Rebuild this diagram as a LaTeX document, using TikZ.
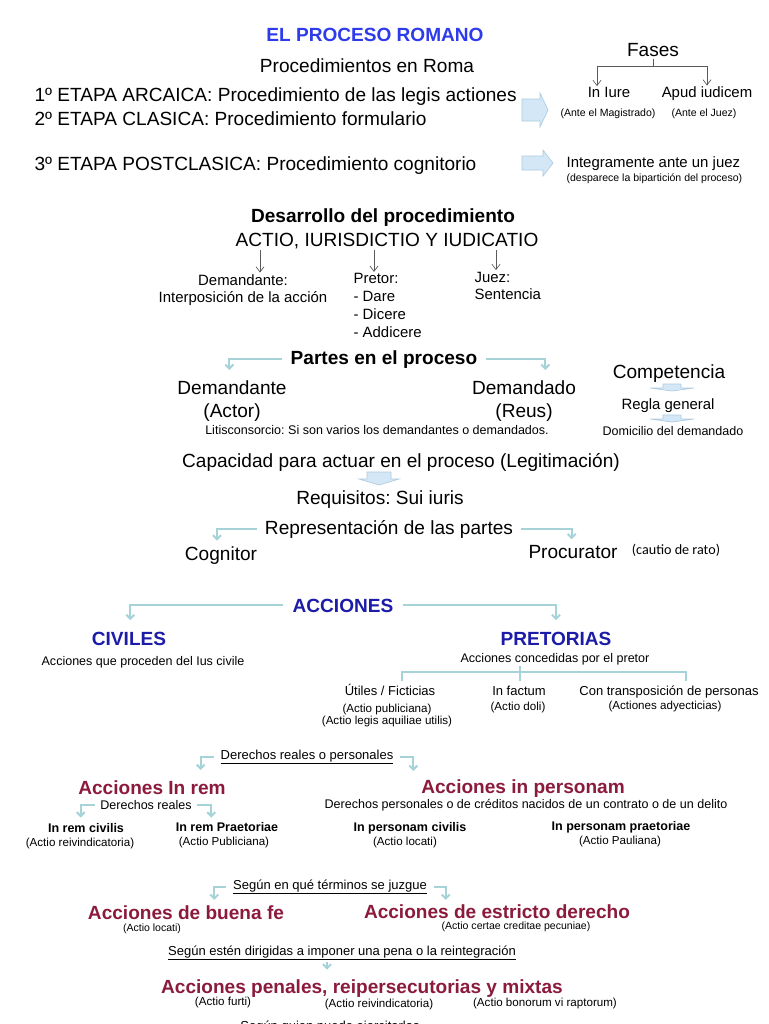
\documentclass[tikz,border=0pt]{standalone}
\usepackage{fontspec}
\setmainfont{Liberation Sans}
\newfontfamily\carlito{Carlito}
\usetikzlibrary{arrows.meta}
\frenchspacing

\definecolor{titblue}{HTML}{2E3BEA}
\definecolor{accblue}{HTML}{1C1CA8}
\definecolor{granate}{HTML}{8B1A3C}
\definecolor{lineteal}{HTML}{A6D3D8}
\definecolor{blkfill}{HTML}{D3E7F6}
\definecolor{blkdraw}{HTML}{AFCBE0}
\definecolor{gris}{HTML}{5A5A5A}

\tikzset{
  txt/.style={anchor=base, inner sep=1pt, align=center},
  big/.style={txt, font=\fontsize{14.3}{17.25}\selectfont},
  bigb/.style={txt, font=\fontsize{14.3}{17.25}\selectfont\bfseries},
  med/.style={txt, font=\fontsize{11.2}{12.75}\selectfont},
  sm13/.style={txt, font=\fontsize{9.75}{12}\selectfont},
  small/.style={txt, font=\fontsize{9.4}{11}\selectfont},
  smb/.style={txt, font=\fontsize{9.4}{11}\selectfont\bfseries},
  tiny/.style={txt, font=\fontsize{8.7}{9}\selectfont},
  micro/.style={txt, font=\fontsize{7.9}{9}\selectfont},
  tarr/.style={draw=lineteal, line width=1.5pt, -{Straight Barb[length=3pt,width=6pt]}},
  tline/.style={draw=lineteal, line width=1.3pt},
  garr/.style={draw=gris, line width=0.5pt, -{Straight Barb[length=4pt,width=6pt]}},
  blk/.style={fill=blkfill, draw=blkdraw, line width=0.5pt},
}

\begin{document}
\begin{tikzpicture}[x=0.75pt, y=-0.75pt]
\useasboundingbox (0,0) rectangle (768,1024);
\fill[white] (0,0) rectangle (768,1024);
\clip (0,0) rectangle (768,1024);

% cabecera y etapas
\node[bigb, text=titblue] (titulo) at (375,42) {EL PROCESO ROMANO};
\node[big] (roma) at (367,73) {Procedimientos en Roma};
\node[big, anchor=base west] (etapa1) at (33,102) {1º ETAPA ARCAICA: Procedimiento de las legis actiones};
\node[big, anchor=base west] (etapa2) at (33,125) {2º ETAPA CLASICA: Procedimiento formulario};
\node[big, anchor=base west] (etapa3) at (33,170) {3º ETAPA POSTCLASICA: Procedimiento cognitorio};

\draw[blk] (522,99) -- (540,99) -- (540,93) -- (548,110) -- (540,127) -- (540,121) -- (522,121) -- cycle;
\draw[blk] (522,156) -- (543,156) -- (543,150) -- (553,163) -- (543,176) -- (543,170) -- (522,170) -- cycle;

% fases
\node[big] (fases) at (653,57) {Fases};
\node[med] (iniure) at (609,98) {In Iure};
\node[med] (apud) at (707,98) {Apud iudicem};
\node[micro] (magis) at (608,117) {(Ante el Magistrado)};
\node[micro] (juez) at (704,117) {(Ante el Juez)};
\draw[draw=gris, line width=0.5pt] (fases.south) -- (fases.south |- 0,66) coordinate (fcruce);
\draw[garr] (fcruce) -| ([xshift=-9]iniure.north);
\draw[garr] (fcruce) -| (apud.north);

\node[med, anchor=base west] (integ) at (565,167) {Integramente ante un juez};
\node[micro, anchor=base west] (bipart) at (565,181) {(desparece la bipartición del proceso)};

% desarrollo
\node[bigb] (desarrollo) at (383,222) {Desarrollo del procedimiento};
\node[big] (actio) at (387,246) {ACTIO, IURISDICTIO Y IUDICATIO};
\node[med] (dem1) at (243,302) {Demandante:\\Interposición de la acción};
\node[med, anchor=base west, align=left, font=\fontsize{11.2}{13.3}\selectfont] (pretor) at (352,337) {Pretor:\\- Dare\\- Dicere\\- Addicere};
\node[med, anchor=base west, align=left] (sentencia) at (473,299) {Juez:\\Sentencia};
\draw[garr] (actio.south -| 260,0) -- (dem1.north -| 260,0);
\draw[garr] (actio.south -| 374,0) -- (pretor.north -| 374,0);
\draw[garr] (actio.south -| 496,0) -- (sentencia.north -| 496,0);

% partes
\node[bigb, inner xsep=6pt] (partes) at (384,364) {Partes en el proceso};
\node[big] (dte) at (232,417) {Demandante\\(Actor)};
\node[big] (ddo) at (524,417) {Demandado\\(Reus)};
\draw[tarr, shorten >=6.5pt] (partes.west) -| ([xshift=-2]dte.north);
\draw[tarr, shorten >=6.5pt] (partes.east) -| ([xshift=16]ddo.north);
\node[small] (litis) at (377,434) {Litisconsorcio: Si son varios los demandantes o demandados.};

% competencia
\node[big] (compet) at (669,378) {Competencia};
\node[med] (regla) at (668,409) {Regla general};
\node[small] (domic) at (673,435) {Domicilio del demandado};
\draw[blk] (663,384) -- (681,384) -- (681,388) -- (694,388) -- (672,391) -- (650,388) -- (663,388) -- cycle;
\draw[blk] (663,415) -- (681,415) -- (681,419) -- (694,419) -- (672,422) -- (650,419) -- (663,419) -- cycle;

% capacidad y representacion
\node[big] (capac) at (401,467) {Capacidad para actuar en el proceso (Legitimación)};
\draw[blk] (367,472) -- (391,472) -- (391,479) -- (399,479) -- (379,485) -- (359,479) -- (367,479) -- cycle;
\node[big] (requis) at (380,504) {Requisitos: Sui iuris};
\node[big, inner xsep=6pt] (repres) at (389,534) {Representación de las partes};
\node[big] (cognitor) at (221,560) {Cognitor};
\node[big] (procur) at (573,558) {Procurator};
\node[anchor=base, inner sep=1pt, font=\carlito\fontsize{10.6}{12}\selectfont] (cautio) at (676,554) {(cautio de rato)};
\draw[tarr, shorten >=3pt] (repres.west) -| ([xshift=-3]cognitor.north);
\draw[tarr, shorten >=3pt] (repres.east) -| ([xshift=-1]procur.north);

% acciones
\node[bigb, text=accblue, inner xsep=7pt] (acciones) at (343,612) {ACCIONES};
\node[bigb, text=accblue] (civiles) at (129,645) {CIVILES};
\node[bigb, text=accblue] (pretorias) at (556,645) {PRETORIAS};
\draw[tarr, shorten >=7.5pt] (acciones.west) -| ([xshift=1]civiles.north);
\draw[tarr, shorten >=7.5pt] (acciones.east) -| (pretorias.north);
\node[small] (ius) at (143,665) {Acciones que proceden del Ius civile};
\node[small] (concedidas) at (555,662) {Acciones concedidas por el pretor};

\node[sm13] (utiles) at (390,695) {Útiles / Ficticias};
\node[tiny] (publiciana) at (387,724) {(Actio publiciana)\\(Actio legis aquiliae utilis)};
\node[sm13] (infactum) at (519,695) {In factum};
\node[tiny] (doli) at (518,710) {(Actio doli)};
\node[sm13] (transp) at (669,695) {Con transposición de personas};
\node[tiny] (adyect) at (665,709) {(Actiones adyecticias)};
\draw[tline] (402,681) -- (402,672) -- (686,672) -- (686,681);
\draw[tline] (concedidas.south -| 520,0) -- (520,681);

% reales o personales
\node[sm13, inner xsep=5pt] (drp) at (307,759) {\underline{Derechos reales o personales}};
\draw[tarr] (drp.west) -| ++(-13,13);
\draw[tarr] (drp.east) -| ++(13,14);

\node[bigb, text=granate] (inrem) at (152,794) {Acciones In rem};
\node[small, inner xsep=4pt] (dreales) at (146,809) {Derechos reales};
\draw[tarr] (dreales.west) -| ++(-14,13);
\draw[tarr] (dreales.east) -| ++(14,13);
\node[smb] (remciv) at (86,832) {In rem civilis};
\node[tiny] (reivind) at (80,846) {(Actio reivindicatoria)};
\node[smb] (rempraet) at (227,831) {In rem Praetoriae};
\node[tiny] (publ2) at (224,845) {(Actio Publiciana)};

\node[bigb, text=granate] (inpers) at (523,793) {Acciones in personam};
\node[small] (dpers) at (526,808) {Derechos personales o de créditos nacidos de un contrato o de un delito};
\node[smb] (persciv) at (410,831) {In personam civilis};
\node[tiny] (locati) at (405,845) {(Actio locati)};
\node[smb] (perspraet) at (621,830) {In personam praetoriae};
\node[tiny] (pauliana) at (620,844) {(Actio Pauliana)};

% terminos
\node[sm13, inner xsep=5pt] (terminos) at (330,889) {\underline{Según en qué términos se juzgue}};
\draw[tarr] (terminos.west) -| ++(-12,13);
\draw[tarr] (terminos.east) -| ++(12,13);
\node[bigb, text=granate] (buenafe) at (186,919) {Acciones de buena fe};
\node[micro] (locati2) at (152,931) {(Actio locati)};
\node[bigb, text=granate] (estricto) at (497,918) {Acciones de estricto derecho};
\node[micro] (certae) at (516,929) {(Actio certae creditae pecuniae)};

% penales
\node[sm13] (pena) at (342,955) {\underline{Según estén dirigidas a imponer una pena o la reintegración}};
\node[bigb, text=granate] (penales) at (362,993) {Acciones penales, reipersecutorias y mixtas};
\draw[tarr, shorten >=6pt] (pena.south -| 327,0) -- (penales.north -| 327,0);
\node[tiny] (furti) at (223,1005) {(Actio furti)};
\node[tiny] (reivind2) at (379,1007) {(Actio reivindicatoria)};
\node[tiny] (bonorum) at (545,1006) {(Actio bonorum vi raptorum)};
\node[sm13] (ejerc) at (330,1030) {\underline{Según quien puede ejercitarlas}};

\end{tikzpicture}
\end{document}
